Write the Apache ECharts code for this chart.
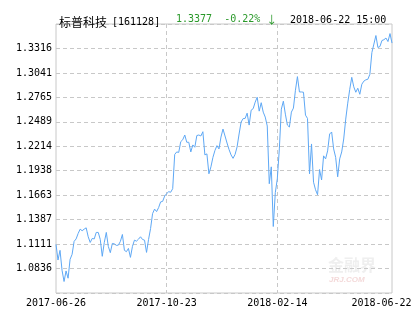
<!DOCTYPE html>
<html>
<head>
<meta charset="utf-8">
<script src="https://cdn.jsdelivr.net/npm/echarts@6/dist/echarts.min.js"></script>
<style>
  html, body { margin: 0; padding: 0; background: #fff; }
  #main { width: 415px; height: 330px; }
</style>
</head>
<body>
<div id="main"></div>
<script>
// net value per trading day
const navValues = [
  1.1108, 1.0932, 1.1041, 1.0817, 1.0690, 1.0809, 1.0727, 1.0940, 1.0996, 1.1142,
  1.1170, 1.1231, 1.1280, 1.1262, 1.1280, 1.1295, 1.1194, 1.1130, 1.1175, 1.1170,
  1.1243, 1.1243, 1.1164, 1.0974, 1.1130, 1.1243, 1.1086, 1.1015, 1.1119, 1.1114,
  1.1097, 1.1100, 1.1142, 1.1220, 1.1041, 1.1026, 1.1063, 1.0962, 1.1086, 1.1156,
  1.1145, 1.1167, 1.1194, 1.1164, 1.1156, 1.1018, 1.1164, 1.1287, 1.1455, 1.1506,
  1.1478, 1.1523, 1.1587, 1.1593, 1.1652, 1.1680, 1.1702, 1.1696, 1.1736, 1.2122,
  1.2150, 1.2145, 1.2266, 1.2288, 1.2341, 1.2259, 1.2259, 1.2150, 1.2229, 1.2203,
  1.2335, 1.2341, 1.2330, 1.2378, 1.2117, 1.2128, 1.1904, 1.1982, 1.2089, 1.2167,
  1.2221, 1.2184, 1.2318, 1.2408, 1.2330, 1.2251, 1.2178, 1.2117, 1.2078, 1.2122,
  1.2206, 1.2352, 1.2487, 1.2526, 1.2528, 1.2587, 1.2453, 1.2621, 1.2638, 1.2711,
  1.2767, 1.2610, 1.2705, 1.2599, 1.2543, 1.2442, 1.1792, 1.1982, 1.1310, 1.1691,
  1.1848, 1.2184, 1.2632, 1.2722, 1.2576, 1.2453, 1.2431, 1.2599, 1.2644, 1.2845,
  1.2999, 1.2826, 1.2826, 1.2823, 1.2565, 1.2528, 1.1904, 1.2240, 1.1809, 1.1724,
  1.1668, 1.1952, 1.1834, 1.2106, 1.2072, 1.2162, 1.2352, 1.2375, 1.2184, 1.2089,
  1.1870, 1.2072, 1.2150, 1.2296, 1.2520, 1.2700, 1.2856, 1.2991, 1.2884, 1.2823,
  1.2868, 1.2800, 1.2913, 1.2948, 1.2963, 1.2969, 1.3025, 1.3271, 1.3366, 1.3462,
  1.3327, 1.3338, 1.3406, 1.3415, 1.3434, 1.3394, 1.3484, 1.3377
];

const xTickLabels = ['2017-06-26', '2017-10-23', '2018-02-14', '2018-06-22'];
const xTickIndex = [0, 55, 110, 167];

const yTickLabels = ['1.0836', '1.1111', '1.1387', '1.1663', '1.1938',
                     '1.2214', '1.2489', '1.2765', '1.3041', '1.3316'];
const yMin = 1.05604;
const yStep = 0.02756;

const fundName = '标普科技';
const fundCode = '[161128]';
const lastPrice = '1.3377';
const lastChange = '-0.22%';
const quoteTime = '2018-06-22 15:00';

const mono = '"DejaVu Sans Mono", "Liberation Mono", monospace';
const categories = navValues.map((_, i) => String(i));

const chart = echarts.init(document.getElementById('main'));

chart.setOption({
  animation: false,
  backgroundColor: '#fff',
  title: [
    {
      text: '{cn|' + fundName + '} {code|' + fundCode + '}',
      left: 54, top: 8,
      textStyle: {
        fontWeight: 'normal',
        rich: {
          cn: { fontFamily: '"Noto Sans CJK SC"', fontSize: 12, fontWeight: 'normal', color: '#000' },
          code: { fontFamily: mono, fontSize: 10, fontWeight: 'normal', color: '#000' }
        }
      }
    },
    {
      text: '{q|' + lastPrice + '  ' + lastChange + ' }{arr|↓}',
      left: 171, top: 9,
      textStyle: {
        fontWeight: 'normal',
        rich: {
          q: { fontFamily: mono, fontSize: 10, fontWeight: 'normal', color: '#2a992a' },
          arr: { fontFamily: '"Noto Sans CJK SC"', fontSize: 11, fontWeight: 'normal', color: '#2a992a' }
        }
      }
    },
    {
      text: quoteTime, left: 285, top: 10,
      textStyle: { fontFamily: mono, fontSize: 10, fontWeight: 'normal', color: '#000' }
    }
  ],
  graphic: [
    {
      type: 'text', left: 328, top: 257, silent: true,
      style: { text: '金融界', font: 'bold 16px "Noto Sans CJK SC"', fill: '#efefef' }
    },
    {
      type: 'text', left: 329, top: 276, silent: true,
      style: { text: 'JRJ.COM', font: 'italic bold 8px "Liberation Sans"', fill: '#f4dada' }
    }
  ],
  grid: {
    left: 56, right: 23, top: 24, bottom: 37,
    show: true, borderColor: '#c8c8c8', borderWidth: 1
  },
  xAxis: {
    type: 'category',
    data: categories,
    boundaryGap: false,
    axisLine: { show: false },
    axisTick: { show: false },
    axisLabel: {
      margin: 5,
      interval: (i) => xTickIndex.includes(i),
      fontFamily: mono, fontSize: 10, color: '#000',
      formatter: (v, i) => {
        const k = xTickIndex.indexOf(i);
        if (k < 0) return '';
        return k === xTickLabels.length - 1 ? '{last|' + xTickLabels[k] + '}' : xTickLabels[k];
      },
      rich: {
        last: { fontFamily: mono, fontSize: 10, color: '#000', padding: [0, 21, 0, 0] }
      }
    },
    splitLine: {
      show: true,
      interval: (i) => i === xTickIndex[1] || i === xTickIndex[2],
      lineStyle: { color: '#c8c8c8', type: [4, 3] }
    }
  },
  yAxis: {
    type: 'value',
    min: yMin,
    max: yMin + 11 * yStep,
    interval: yStep,
    axisLine: { show: false },
    axisTick: { show: false },
    axisLabel: {
      margin: 4,
      showMinLabel: false, showMaxLabel: false,
      fontFamily: mono, fontSize: 10, color: '#000',
      formatter: (v) => yTickLabels[Math.round((v - yMin) / yStep) - 1] || ''
    },
    splitLine: { lineStyle: { color: '#c8c8c8', type: [4, 3] } }
  },
  series: [
    {
      type: 'line',
      data: navValues,
      showSymbol: false,
      lineStyle: { color: '#5ea8f5', width: 1 },
      silent: true
    }
  ]
});
</script>
</body>
</html>
